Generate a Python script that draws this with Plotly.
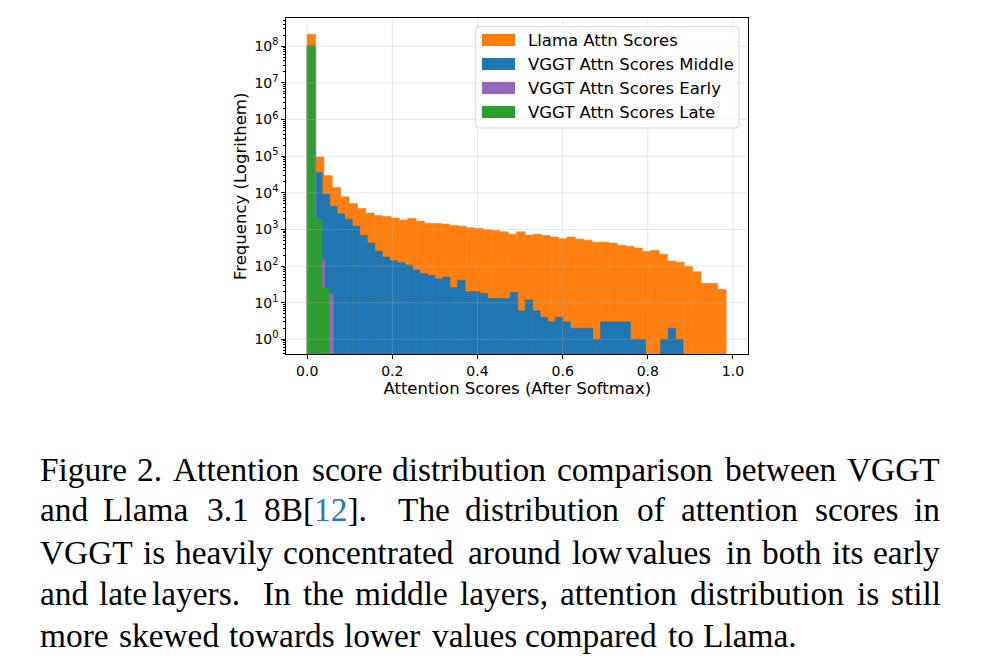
"""Attention score histograms with the figure caption underneath."""
import plotly.graph_objects as go

LABELS = ["Llama Attn Scores", "VGGT Attn Scores Middle", "VGGT Attn Scores Early", "VGGT Attn Scores Late"]
COLORS = ["#ff7f0e", "#1f77b4", "#9467bd", "#2ca02c"]

# upper end of each histogram's range
LLAMA_MAX = 0.984
MIDDLE_MAX = 0.883
EARLY_MAX = 0.0615
LATE_MAX = 0.0512

llama_counts = [2.14e8, 95000, 29500, 14000, 7800, 5100, 3700, 2800, 2400, 2260,
                2040, 1820, 2000, 1690, 1480, 1450, 1400, 1290, 1230, 1110,
                1070, 980, 930, 860, 740, 860, 700, 740, 680, 620,
                555, 620, 545, 510, 450, 450, 425, 370, 350, 310,
                250, 270, 210, 137, 128, 98, 70, 34, 34, 23]
middle_counts = [1.0e8, 36000, 9100, 4300, 2700, 1900, 1230, 690, 425, 257,
                 176, 140, 126, 107, 78, 62, 56, 45, 50, 26,
                 41, 20, 20, 18, 13, 13, 13, 19, 6, 12,
                 6, 4, 3, 4, 3, 2, 2, 2, 1, 3,
                 3, 3, 3, 1, 1, None, None, 1, 2, 1]
early_counts = [1.0e8, 150, 17]
late_counts = [1.07e8, 1900, 25]

X_TICKS = [0.0, 0.2, 0.4, 0.6, 0.8, 1.0]
X_LABELS = ["0.0", "0.2", "0.4", "0.6", "0.8", "1.0"]
Y_TICKS = [1, 1e1, 1e2, 1e3, 1e4, 1e5, 1e6, 1e7, 1e8]
Y_LABELS = ["10<sup>%d</sup>" % i for i in range(9)]

CAPTION_WORDS = [
    ["Figure", "2.", "Attention", "score", "distribution", "comparison", "between", "VGGT"],
    ["and", "Llama", "3.1", "8B[<span style='color:#2e75b6'>12</span>].", "The", "distribution", "of", "attention", "scores", "in"],
    ["VGGT", "is", "heavily", "concentrated", "around", "low", "values", "in", "both", "its", "early"],
    ["and", "late", "layers.", "In", "the", "middle", "layers,", "attention", "distribution", "is", "still"],
    ["more", "skewed", "towards", "lower", "values", "compared", "to", "Llama."],
]
CAPTION_LEFT = [
    [40, 137, 173, 312, 392, 557, 725, 847],
    [40, 103, 207, 264, 398, 465, 637, 681, 815, 914],
    [40, 143, 175, 283, 468, 572, 626, 726, 762, 832, 873],
    [40, 99, 152, 263, 303, 355, 460, 560, 690, 857, 891],
    [40, 119, 229, 344, 432, 525, 668, 703],
]
CAPTION_MID = [469, 509.4, 552, 593, 635]

# the page body has an 8px margin, so the figure starts at (8, 8)
PAD = 8
W, H = 1000 - PAD, 672 - PAD
FONT = "DejaVu Sans"


def px_x(v):
    return (v - PAD) / W


def px_y(v):
    return 1 - (v - PAD) / H


def hist_bar(counts, range_max, color):
    width = range_max / len(counts)
    # thin same-colour outline closes the seams between neighbouring bins
    return go.Bar(x=[width * (i + 0.5) for i in range(len(counts))], y=counts,
                  width=width, marker=dict(color=color, line=dict(width=0.6, color=color)))


fig = go.Figure()
series = [(llama_counts, LLAMA_MAX), (middle_counts, MIDDLE_MAX), (early_counts, EARLY_MAX), (late_counts, LATE_MAX)]
for (counts, range_max), color in zip(series, COLORS):
    fig.add_trace(hist_bar(counts, range_max, color))

# matplotlib draws its grid above the bars
shapes = []
grid = dict(color="rgba(176,176,176,0.3)", width=1)
for v in X_TICKS:
    shapes.append(dict(type="line", xref="x", yref="y domain", x0=v, x1=v, y0=0, y1=1, line=grid, layer="above"))
for v in Y_TICKS:
    shapes.append(dict(type="line", xref="x domain", yref="y", x0=0, x1=1, y0=v, y1=v, line=grid, layer="above"))

# legend box, swatches wider than the plotly legend allows
x0, x1, y0, y1 = px_x(475.7), px_x(739), px_y(128), px_y(26.7)
dx, dy = 3 / W, 3 / H
box = (f"M{x0 + dx},{y0} L{x1 - dx},{y0} Q{x1},{y0} {x1},{y0 + dy} L{x1},{y1 - dy} Q{x1},{y1} {x1 - dx},{y1} "
       f"L{x0 + dx},{y1} Q{x0},{y1} {x0},{y1 - dy} L{x0},{y0 + dy} Q{x0},{y0} {x0 + dx},{y0} Z")
shapes.append(dict(type="path", xref="paper", yref="paper", path=box, fillcolor="rgba(255,255,255,0.8)",
                   line=dict(color="rgba(204,204,204,0.8)", width=1), layer="above"))
annotations = []
for i, (label, color) in enumerate(zip(LABELS, COLORS)):
    top = 34 + 24 * i
    shapes.append(dict(type="rect", xref="paper", yref="paper", x0=px_x(482), x1=px_x(515),
                       y0=px_y(top + 12), y1=px_y(top), fillcolor=color, line=dict(width=0), layer="above"))
    annotations.append(dict(text=label, xref="paper", yref="paper", x=px_x(526), y=px_y(top + 6.5),
                            xanchor="left", yanchor="middle", showarrow=False,
                            font=dict(family=FONT, size=16.5, color="black")))

for words, lefts, mid in zip(CAPTION_WORDS, CAPTION_LEFT, CAPTION_MID):
    for word, left in zip(words, lefts):
        annotations.append(dict(text=word, xref="paper", yref="paper", x=px_x(left - 2), y=px_y(mid),
                                xanchor="left", yanchor="middle", showarrow=False,
                                font=dict(family="Liberation Serif", size=33.4, color="black")))

fig.update_layout(
    width=W, height=H, margin=dict(l=0, r=0, t=0, b=0),
    paper_bgcolor="white", plot_bgcolor="white", showlegend=False, barmode="overlay",
    shapes=shapes, annotations=annotations,
    font=dict(family=FONT, size=14, color="black"),
)
fig.update_xaxes(
    domain=[px_x(286.3), px_x(748.3)], range=[-0.049, 1.036], tickvals=X_TICKS, ticktext=X_LABELS,
    showgrid=False, zeroline=False, showline=True, mirror=True, linecolor="black", linewidth=1,
    ticks="outside", ticklen=4, tickcolor="black", layer="above traces", tickfont=dict(size=14),
    title=dict(text="Attention Scores (After Softmax)", standoff=4, font=dict(size=16.5)),
)
fig.update_yaxes(
    type="log", domain=[px_y(354.3), px_y(18.3)], range=[-0.409, 8.764], tickvals=Y_TICKS, ticktext=Y_LABELS,
    showgrid=False, zeroline=False, showline=True, mirror=True, linecolor="black", linewidth=1,
    ticks="outside", ticklen=4, tickcolor="black", layer="above traces", tickfont=dict(size=14),
    minor=dict(dtick="D1", ticks="outside", ticklen=2, tickcolor="black", showgrid=False),
    title=dict(text="Frequency (Logrithem)", standoff=3, font=dict(size=16.5)),
)

fig.write_html("out.html")
